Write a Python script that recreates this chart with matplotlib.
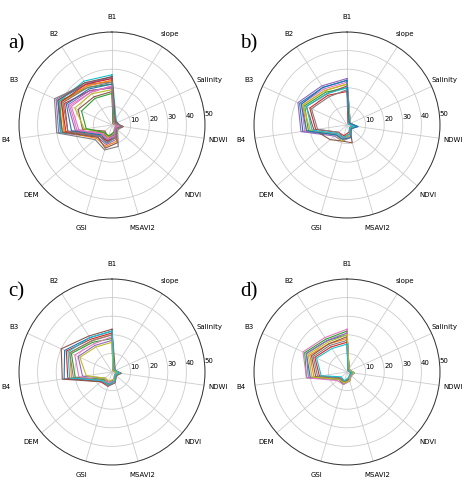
import numpy as np
import matplotlib.pyplot as plt

labels = ['B1', 'slope', 'Salinity', 'NDWI', 'NDVI', 'MSAVI2', 'GSI', 'DEM', 'B4', 'B3', 'B2']

# one row per sample, columns follow labels
panel_a = [
    [26, 3, 2, 5, 3, 6, 9, 8, 28, 32, 26],
    [24, 2, 2, 4, 2, 5, 8, 7, 26, 30, 25],
    [22, 2, 1, 5, 3, 7, 10, 9, 27, 31, 24],
    [20, 1, 2, 6, 2, 5, 8, 6, 24, 28, 22],
    [25, 3, 3, 4, 3, 8, 11, 10, 29, 33, 27],
    [18, 2, 2, 5, 2, 4, 7, 5, 16, 20, 18],
    [21, 2, 1, 3, 2, 6, 9, 8, 18, 24, 21],
    [23, 3, 2, 6, 4, 12, 14, 12, 30, 34, 26],
    [19, 1, 1, 5, 2, 5, 7, 6, 15, 22, 20],
    [27, 4, 3, 5, 3, 7, 10, 9, 28, 31, 28],
    [22, 2, 2, 4, 3, 6, 9, 8, 22, 27, 23],
    [24, 2, 2, 5, 2, 9, 12, 11, 26, 29, 25],
    [17, 1, 1, 4, 2, 4, 6, 6, 14, 18, 17],
    [25, 3, 2, 6, 3, 7, 9, 9, 25, 30, 26],
    [20, 2, 2, 5, 2, 5, 8, 7, 20, 26, 22],
    [26, 3, 3, 5, 3, 10, 13, 10, 27, 32, 27],
    [21, 2, 1, 4, 2, 6, 8, 7, 19, 25, 21],
    [23, 2, 2, 6, 3, 7, 10, 9, 24, 29, 24],
]
panel_b = [
    [24, 3, 2, 5, 3, 6, 8, 8, 24, 28, 24],
    [22, 2, 2, 4, 2, 5, 7, 7, 22, 26, 22],
    [20, 2, 1, 5, 3, 6, 8, 8, 21, 25, 21],
    [18, 1, 2, 4, 2, 4, 6, 6, 17, 22, 19],
    [25, 3, 2, 6, 3, 7, 9, 9, 25, 29, 25],
    [21, 2, 2, 5, 2, 10, 9, 12, 18, 24, 20],
    [23, 2, 1, 4, 3, 6, 8, 7, 23, 27, 23],
    [19, 2, 2, 5, 2, 5, 7, 6, 16, 21, 18],
    [22, 3, 2, 4, 3, 6, 9, 8, 20, 26, 22],
    [20, 2, 1, 5, 2, 5, 7, 7, 19, 24, 20],
    [24, 2, 2, 6, 3, 7, 8, 8, 22, 27, 24],
]
panel_c = [
    [22, 2, 2, 4, 3, 5, 7, 7, 26, 28, 22],
    [20, 2, 1, 4, 2, 4, 6, 6, 22, 25, 20],
    [18, 1, 2, 5, 2, 5, 7, 6, 20, 24, 19],
    [21, 2, 2, 4, 3, 6, 8, 8, 24, 27, 21],
    [17, 1, 1, 3, 2, 4, 6, 5, 16, 20, 17],
    [23, 3, 2, 5, 3, 5, 7, 8, 27, 30, 23],
    [19, 2, 2, 4, 2, 5, 6, 7, 18, 22, 18],
    [20, 2, 1, 5, 3, 6, 8, 7, 21, 25, 20],
    [16, 1, 1, 4, 2, 4, 5, 5, 14, 19, 16],
    [22, 2, 2, 4, 2, 5, 7, 7, 23, 26, 22],
]
panel_d = [
    [20, 2, 2, 4, 2, 5, 6, 6, 20, 24, 20],
    [18, 1, 1, 3, 2, 4, 5, 5, 18, 22, 18],
    [22, 2, 2, 4, 3, 5, 7, 6, 22, 25, 21],
    [16, 1, 1, 3, 2, 4, 5, 5, 15, 19, 16],
    [21, 2, 2, 4, 2, 5, 6, 6, 21, 24, 20],
    [19, 2, 1, 3, 2, 4, 6, 5, 17, 21, 18],
    [23, 2, 2, 4, 3, 5, 7, 7, 22, 26, 22],
    [17, 1, 1, 3, 2, 4, 5, 5, 16, 20, 17],
    [20, 2, 2, 4, 2, 5, 6, 6, 19, 23, 19],
    [15, 1, 1, 3, 2, 3, 5, 4, 14, 18, 15],
]
panels = [('a)', panel_a), ('b)', panel_b), ('c)', panel_c), ('d)', panel_d)]

angles = np.linspace(0, 2 * np.pi, len(labels), endpoint=False)

fig = plt.figure(figsize=(4.74, 4.97), dpi=100)
w, h = 186 / 474, 186 / 497
centers = [(112 / 474, 1 - 125 / 497), (347 / 474, 1 - 125 / 497),
           (112 / 474, 1 - 372 / 497), (347 / 474, 1 - 372 / 497)]
tag_pos = [(8 / 474, 1 - 48 / 497), (240 / 474, 1 - 48 / 497),
           (8 / 474, 1 - 296 / 497), (240 / 474, 1 - 296 / 497)]
for (tag, rows), (cx, cy), tp in zip(panels, centers, tag_pos):
    ax = fig.add_axes((cx - w / 2, cy - h / 2, w, h), projection='polar')
    ax.set_theta_offset(np.pi / 2)
    ax.set_theta_direction(-1)
    for row in rows:
        vals = row + row[:1]
        ang = list(angles) + [angles[0]]
        ax.plot(ang, vals, lw=0.8)
    ax.set_ylim(0, 50)
    ax.set_yticks([10, 20, 30, 40, 50])
    ax.set_yticklabels(['10', '20', '30', '40', '50'], fontsize=5)
    ax.set_rlabel_position(85)
    ax.set_xticks(angles)
    ax.set_xticklabels(labels, fontsize=5)
    ax.tick_params(axis='x', pad=0)
    ax.grid(color='#cccccc', lw=0.6)
    ax.spines['polar'].set_linewidth(0.7)
    ax.spines['polar'].set_color('#333333')
    fig.text(tp[0], tp[1], tag, fontsize=15, family='Liberation Serif')

fig.savefig('out.png', dpi=100)
